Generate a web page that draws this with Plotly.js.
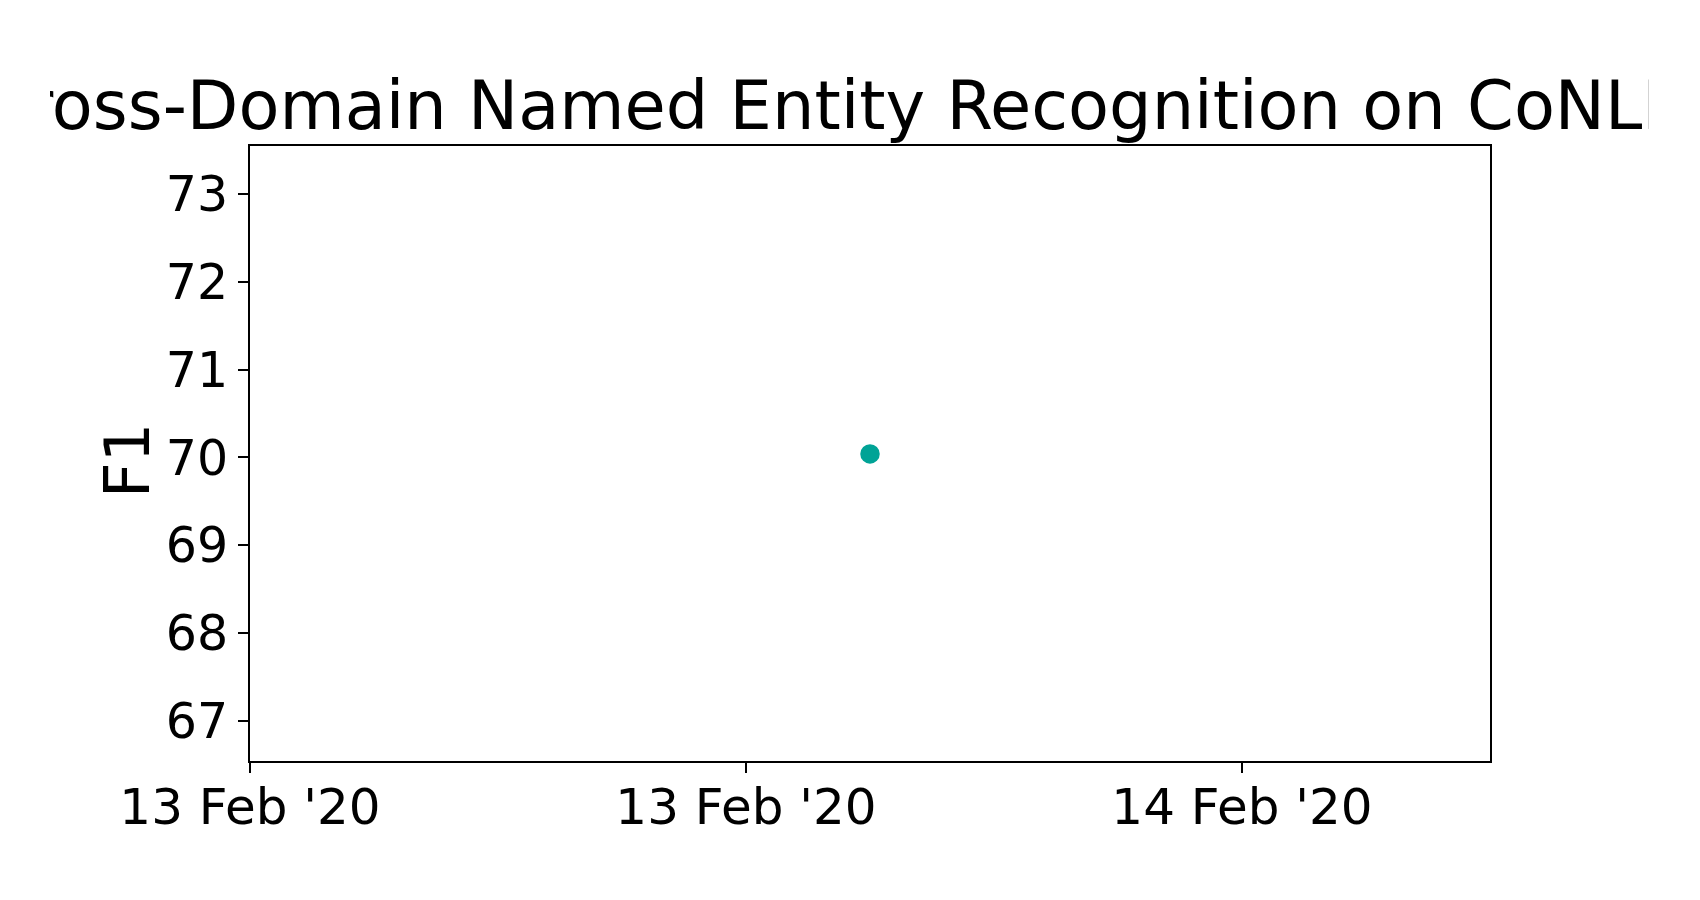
<!DOCTYPE html>
<html>
<head>
<meta charset="utf-8">
<script src="https://cdn.plot.ly/plotly-3.0.1.min.js"></script>
<style>
  body { margin: 0; background: #fff; }
  #clip { position: absolute; left: 50px; top: 0; width: 1599px; height: 900px; overflow: hidden; }
  #plot { position: absolute; left: -100px; top: 0; width: 1750px; height: 900px; }
</style>
</head>
<body>
<div id="clip"><div id="plot"></div></div>
<script>
// data
var dates = ['2020-02-13 15:00'];
var f1Scores = [70.04];
var chartTitle = 'Cross-Domain Named Entity Recognition on CoNLL 2003';
var yLabel = 'F1';

var font = 'DejaVu Sans, sans-serif';

var data = [{
  type: 'scatter',
  mode: 'markers',
  x: dates,
  y: f1Scores,
  marker: { size: 19.5, color: '#00a396' },
  hoverinfo: 'skip'
}];

var layout = {
  width: 1750,
  height: 900,
  margin: { l: 300, r: 210, t: 146, b: 139 },
  paper_bgcolor: '#fff',
  plot_bgcolor: '#fff',
  showlegend: false,
  font: { family: font, color: '#000' },
  title: {
    text: chartTitle,
    font: { family: font, size: 67, color: '#000' },
    xref: 'container',
    x: 29 / 1750,
    xanchor: 'left',
    yref: 'container',
    y: 1 - 106 / 900,
    yanchor: 'middle'
  },
  xaxis: {
    type: 'date',
    range: ['2020-02-13 00:00', '2020-02-14 06:00'],
    tick0: '2020-02-13',
    dtick: 43200000,
    tickformat: "%d %b '%y",
    ticks: 'outside',
    ticklen: 10,
    tickwidth: 2,
    tickcolor: '#000',
    tickfont: { family: font, size: 50, color: '#000' },
    ticklabelstandoff: -9,
    showline: true,
    linecolor: '#000',
    linewidth: 2,
    mirror: true,
    showgrid: false,
    zeroline: false
  },
  yaxis: {
    range: [66.54, 73.55],
    dtick: 1,
    ticks: 'outside',
    ticklen: 10,
    tickwidth: 2,
    tickcolor: '#000',
    tickfont: { family: font, size: 49, color: '#000' },
    showline: true,
    linecolor: '#000',
    linewidth: 2,
    mirror: true,
    showgrid: false,
    zeroline: false
  },
  // y axis label, placed by hand like matplotlib's ylabel
  annotations: [{
    text: yLabel,
    textangle: -90,
    xref: 'paper', yref: 'paper',
    x: -122 / 1240, y: 0.488,
    xanchor: 'center', yanchor: 'middle',
    showarrow: false,
    font: { family: font, size: 62, color: '#000' }
  }]
};

Plotly.newPlot('plot', data, layout, { staticPlot: true });
</script>
</body>
</html>
